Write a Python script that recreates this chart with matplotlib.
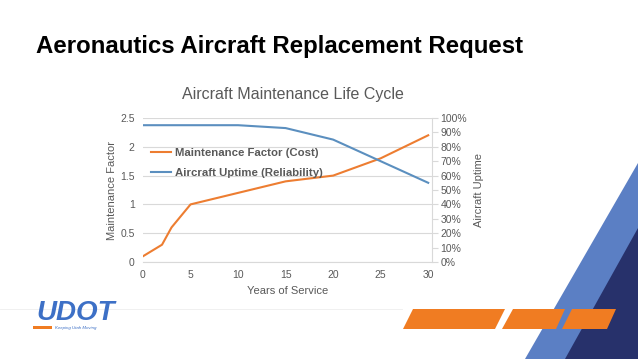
import numpy as np
import matplotlib.pyplot as plt
from matplotlib.patches import Polygon, Rectangle
from matplotlib.lines import Line2D

plt.rcParams['font.family'] = ['Liberation Sans', 'DejaVu Sans']

years = [0, 2, 3, 5, 10, 15, 20, 25, 30]
maint_factor = [0.1, 0.3, 0.6, 1.0, 1.2, 1.4, 1.5, 1.8, 2.2]
uptime_years = [0, 5, 10, 15, 20, 25, 30]
uptime = [95, 95, 95, 93, 85, 70, 55]

orange = '#ED7D31'
blue = '#5B8FBF'
gray = '#595959'
grid = '#D9D9D9'

W, H = 638, 359
fig = plt.figure(figsize=(W / 100, H / 100), dpi=100)

# slide decorations in pixel coords
bg = fig.add_axes([0, 0, 1, 1], zorder=0)
bg.set_xlim(0, W)
bg.set_ylim(H, 0)
bg.axis('off')
bg.add_patch(Polygon([(525, 359), (638, 163), (638, 359)], closed=True, color='#5B7FC4', lw=0))
bg.add_patch(Polygon([(565, 359), (638, 228), (638, 359)], closed=True, color='#27316B', lw=0))
for pts in [[(403, 329), (413, 309), (505, 309), (495, 329)],
            [(502, 329), (513, 309), (565, 309), (556, 329)],
            [(562, 329), (572, 309), (616, 309), (607, 329)]]:
    bg.add_patch(Polygon(pts, closed=True, color='#F07C22', lw=0))
bg.plot([0, 402], [309, 309], color='#EEEEEE', lw=0.6)
bg.text(36, 47, 'Aeronautics Aircraft Replacement Request', fontsize=17.3, fontweight='bold',
        color='black', ha='left', va='center')
bg.text(36, 313, 'UDOT', fontsize=20, fontweight='bold', fontstyle='italic',
        color='#3D70C6', ha='left', va='center')
bg.add_patch(Rectangle((33, 326), 19, 3, color='#F07C22', lw=0))
bg.text(55, 327.5, 'Keeping Utah Moving', fontsize=3.2, fontstyle='italic',
        color='#3D70C6', ha='left', va='center')

# chart
ax = fig.add_axes([143 / W, 1 - 262 / H, 289 / W, 144 / H], zorder=2)
ax.patch.set_alpha(0)
ax.plot(years, maint_factor, color=orange, lw=1.5)
ax.set_xlim(0, 30.4)
ax.set_ylim(0, 2.5)
ax.set_xticks([0, 5, 10, 15, 20, 25, 30])
ax.set_yticks([0, 0.5, 1, 1.5, 2, 2.5])
ax.set_yticklabels(['0', '0.5', '1', '1.5', '2', '2.5'])
ax.grid(axis='y', color=grid, lw=0.8)
ax.set_axisbelow(True)
for s in ['top', 'left', 'right']:
    ax.spines[s].set_visible(False)
ax.spines['bottom'].set_color(grid)
ax.tick_params(axis='both', length=0, labelsize=7.5, labelcolor=gray, pad=6)
ax.set_xlabel('Years of Service', fontsize=8, color=gray, labelpad=4)
ax.set_ylabel('Maintenance Factor', fontsize=8, color=gray, labelpad=2)
ax.set_title('Aircraft Maintenance Life Cycle', fontsize=11.5, color=gray, pad=14, x=0.52)

ax2 = ax.twinx()
ax2.plot(uptime_years, uptime, color=blue, lw=1.5)
ax2.set_ylim(0, 100)
ax2.set_yticks(np.arange(0, 101, 10))
ax2.set_yticklabels([f'{v}%' for v in range(0, 101, 10)])
for s in ['top', 'left', 'bottom']:
    ax2.spines[s].set_visible(False)
ax2.spines['right'].set_color(grid)
ax2.tick_params(axis='y', length=4, color=grid, labelsize=7.5, labelcolor=gray, pad=2)
ax2.set_ylabel('Aircraft Uptime', fontsize=8, color=gray, labelpad=5)

handles = [Line2D([], [], color=orange, lw=1.5), Line2D([], [], color=blue, lw=1.5)]
leg = ax.legend(handles, ['Maintenance Factor (Cost)', 'Aircraft Uptime (Reliability)'],
                loc='upper left', bbox_to_anchor=(0.0, 0.85), frameon=False,
                prop={'size': 8.2, 'weight': 'bold'}, handlelength=1.8, handletextpad=0.3,
                labelspacing=0.9, borderaxespad=0.3)
for t in leg.get_texts():
    t.set_color(gray)
leg.set_zorder(5)

fig.savefig('out.png', dpi=100)
